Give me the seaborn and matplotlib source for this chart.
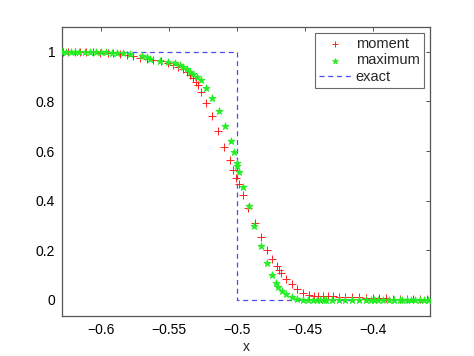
import matplotlib
matplotlib.use("Agg")
import matplotlib.pyplot as plt
import seaborn as sns
from matplotlib.ticker import FuncFormatter

# moment solution (red +)
x_moment = [-0.6280, -0.6243, -0.6194, -0.6152, -0.6108, -0.6059, -0.6010, -0.5948, -0.5911, -0.5862,
            -0.5812, -0.5763, -0.5710, -0.5660, -0.5615, -0.5560, -0.5510, -0.5470, -0.5430, -0.5395,
            -0.5369, -0.5345, -0.5320, -0.5300, -0.5285, -0.5267, -0.5229, -0.5180, -0.5136, -0.5092,
            -0.5050, -0.5026, -0.5006, -0.4982, -0.4952, -0.4915, -0.4868, -0.4824, -0.4775, -0.4739,
            -0.4706, -0.4687, -0.4672, -0.4640, -0.4596, -0.4554, -0.4510, -0.4466, -0.4430, -0.4400,
            -0.4365, -0.4330, -0.4290, -0.4250, -0.4200, -0.4150, -0.4100, -0.4050, -0.4000, -0.3950,
            -0.3900, -0.3850, -0.3800, -0.3750, -0.3700, -0.3650, -0.3600]
y_moment = [1.000, 0.999, 0.999, 0.999, 0.998, 0.998, 0.997, 0.996, 0.995, 0.990,
            0.986, 0.982, 0.977, 0.972, 0.968, 0.963, 0.956, 0.948, 0.939, 0.929,
            0.919, 0.906, 0.893, 0.880, 0.867, 0.840, 0.794, 0.743, 0.680, 0.617,
            0.563, 0.523, 0.493, 0.466, 0.423, 0.369, 0.311, 0.253, 0.203, 0.165,
            0.139, 0.122, 0.108, 0.085, 0.064, 0.046, 0.030, 0.020, 0.017, 0.016,
            0.016, 0.015, 0.015, 0.014, 0.013, 0.012, 0.011, 0.010, 0.009, 0.008,
            0.007, 0.006, 0.005, 0.004, 0.004, 0.003, 0.003]

# maximum solution (green *)
x_maximum = [-0.6285, -0.6255, -0.6225, -0.6195, -0.6160, -0.6120, -0.6080, -0.6040, -0.6000, -0.5960,
             -0.5920, -0.5880, -0.5840, -0.5786, -0.5700, -0.5663, -0.5639, -0.5566, -0.5507, -0.5455,
             -0.5418, -0.5394, -0.5369, -0.5345, -0.5320, -0.5296, -0.5267, -0.5227, -0.5180, -0.5131,
             -0.5087, -0.5045, -0.5021, -0.5001, -0.4997, -0.4982, -0.4952, -0.4910, -0.4873, -0.4822,
             -0.4775, -0.4739, -0.4711, -0.4694, -0.4670, -0.4638, -0.4596, -0.4554, -0.4515, -0.4475,
             -0.4440, -0.4410, -0.4385, -0.4360, -0.4340, -0.4300, -0.4250, -0.4200, -0.4150, -0.4100,
             -0.4050, -0.4010, -0.3990, -0.3960, -0.3920, -0.3880, -0.3840, -0.3800, -0.3780, -0.3750,
             -0.3720, -0.3690, -0.3650, -0.3620, -0.3590]
y_maximum = [1.000, 1.000, 1.000, 1.000, 0.999, 0.999, 0.999, 0.999, 0.998, 0.998,
             0.997, 0.996, 0.994, 0.990, 0.983, 0.980, 0.973, 0.965, 0.961, 0.955,
             0.949, 0.939, 0.929, 0.919, 0.909, 0.899, 0.885, 0.855, 0.815, 0.763,
             0.703, 0.642, 0.595, 0.554, 0.540, 0.516, 0.457, 0.378, 0.297, 0.216,
             0.149, 0.099, 0.070, 0.054, 0.038, 0.023, 0.011, 0.003, 0.001, 0.000,
             0.000, 0.000, 0.000, 0.000, 0.000, 0.000, 0.000, 0.000, 0.000, 0.000,
             0.000, 0.000, 0.000, 0.000, 0.000, 0.000, 0.000, 0.000, 0.000, 0.000,
             0.000, 0.000, 0.000, 0.000, 0.000]

# exact step solution
x_exact = [-0.6287, -0.5, -0.5, -0.3578]
y_exact = [1.0, 1.0, 0.0, 0.0]

x_ticks = [-0.6, -0.55, -0.5, -0.45, -0.4]
y_ticks = [0, 0.2, 0.4, 0.6, 0.8, 1]

sns.set_style("white")
plt.rcParams['font.family'] = ['Liberation Sans', 'DejaVu Sans']

fig = plt.figure(figsize=(4.74, 3.56), dpi=100)
ax = fig.add_axes([0.131, 0.112, 0.776, 0.812])

sns.scatterplot(x=x_moment, y=y_moment, ax=ax, marker='+', s=30, linewidth=0.7,
                color='#ff2020', label='moment', zorder=2)
sns.scatterplot(x=x_maximum, y=y_maximum, ax=ax, marker='*', s=28, linewidth=0.6,
                color='#22ee22', edgecolor='#22ee22', label='maximum', zorder=3)
sns.lineplot(x=x_exact, y=y_exact, ax=ax, estimator=None, sort=False,
             linestyle=(0, (4, 3)), linewidth=0.9, color='#4c4cf0', label='exact', zorder=1)

ax.set_xlim(-0.6287, -0.3578)
ax.set_ylim(-0.065, 1.1)
ax.set_xticks(x_ticks)
ax.set_yticks(y_ticks)
ax.xaxis.set_major_formatter(FuncFormatter(lambda v, p: ('%g' % v).replace('-', '\u2212')))
ax.yaxis.set_major_formatter(FuncFormatter(lambda v, p: '%g' % v))
ax.tick_params(direction='in', length=3, width=0.6, top=True, right=True,
               labelsize=10, colors='#333333', labelcolor='black', pad=5)
for s in ax.spines.values():
    s.set_visible(True)
    s.set_color('#555555')
    s.set_linewidth(0.9)
ax.set_xlabel('x', fontsize=10, labelpad=2)
ax.set_ylabel('')

leg = ax.legend(loc='upper right', fontsize=10.5, frameon=True, fancybox=False,
                borderaxespad=0.4, handlelength=2.2, handletextpad=0.3,
                labelspacing=0.15, borderpad=0.3, markerscale=0.8)
leg.get_frame().set_edgecolor('#444444')
leg.get_frame().set_linewidth(0.8)

fig.savefig('out.png', dpi=100)
